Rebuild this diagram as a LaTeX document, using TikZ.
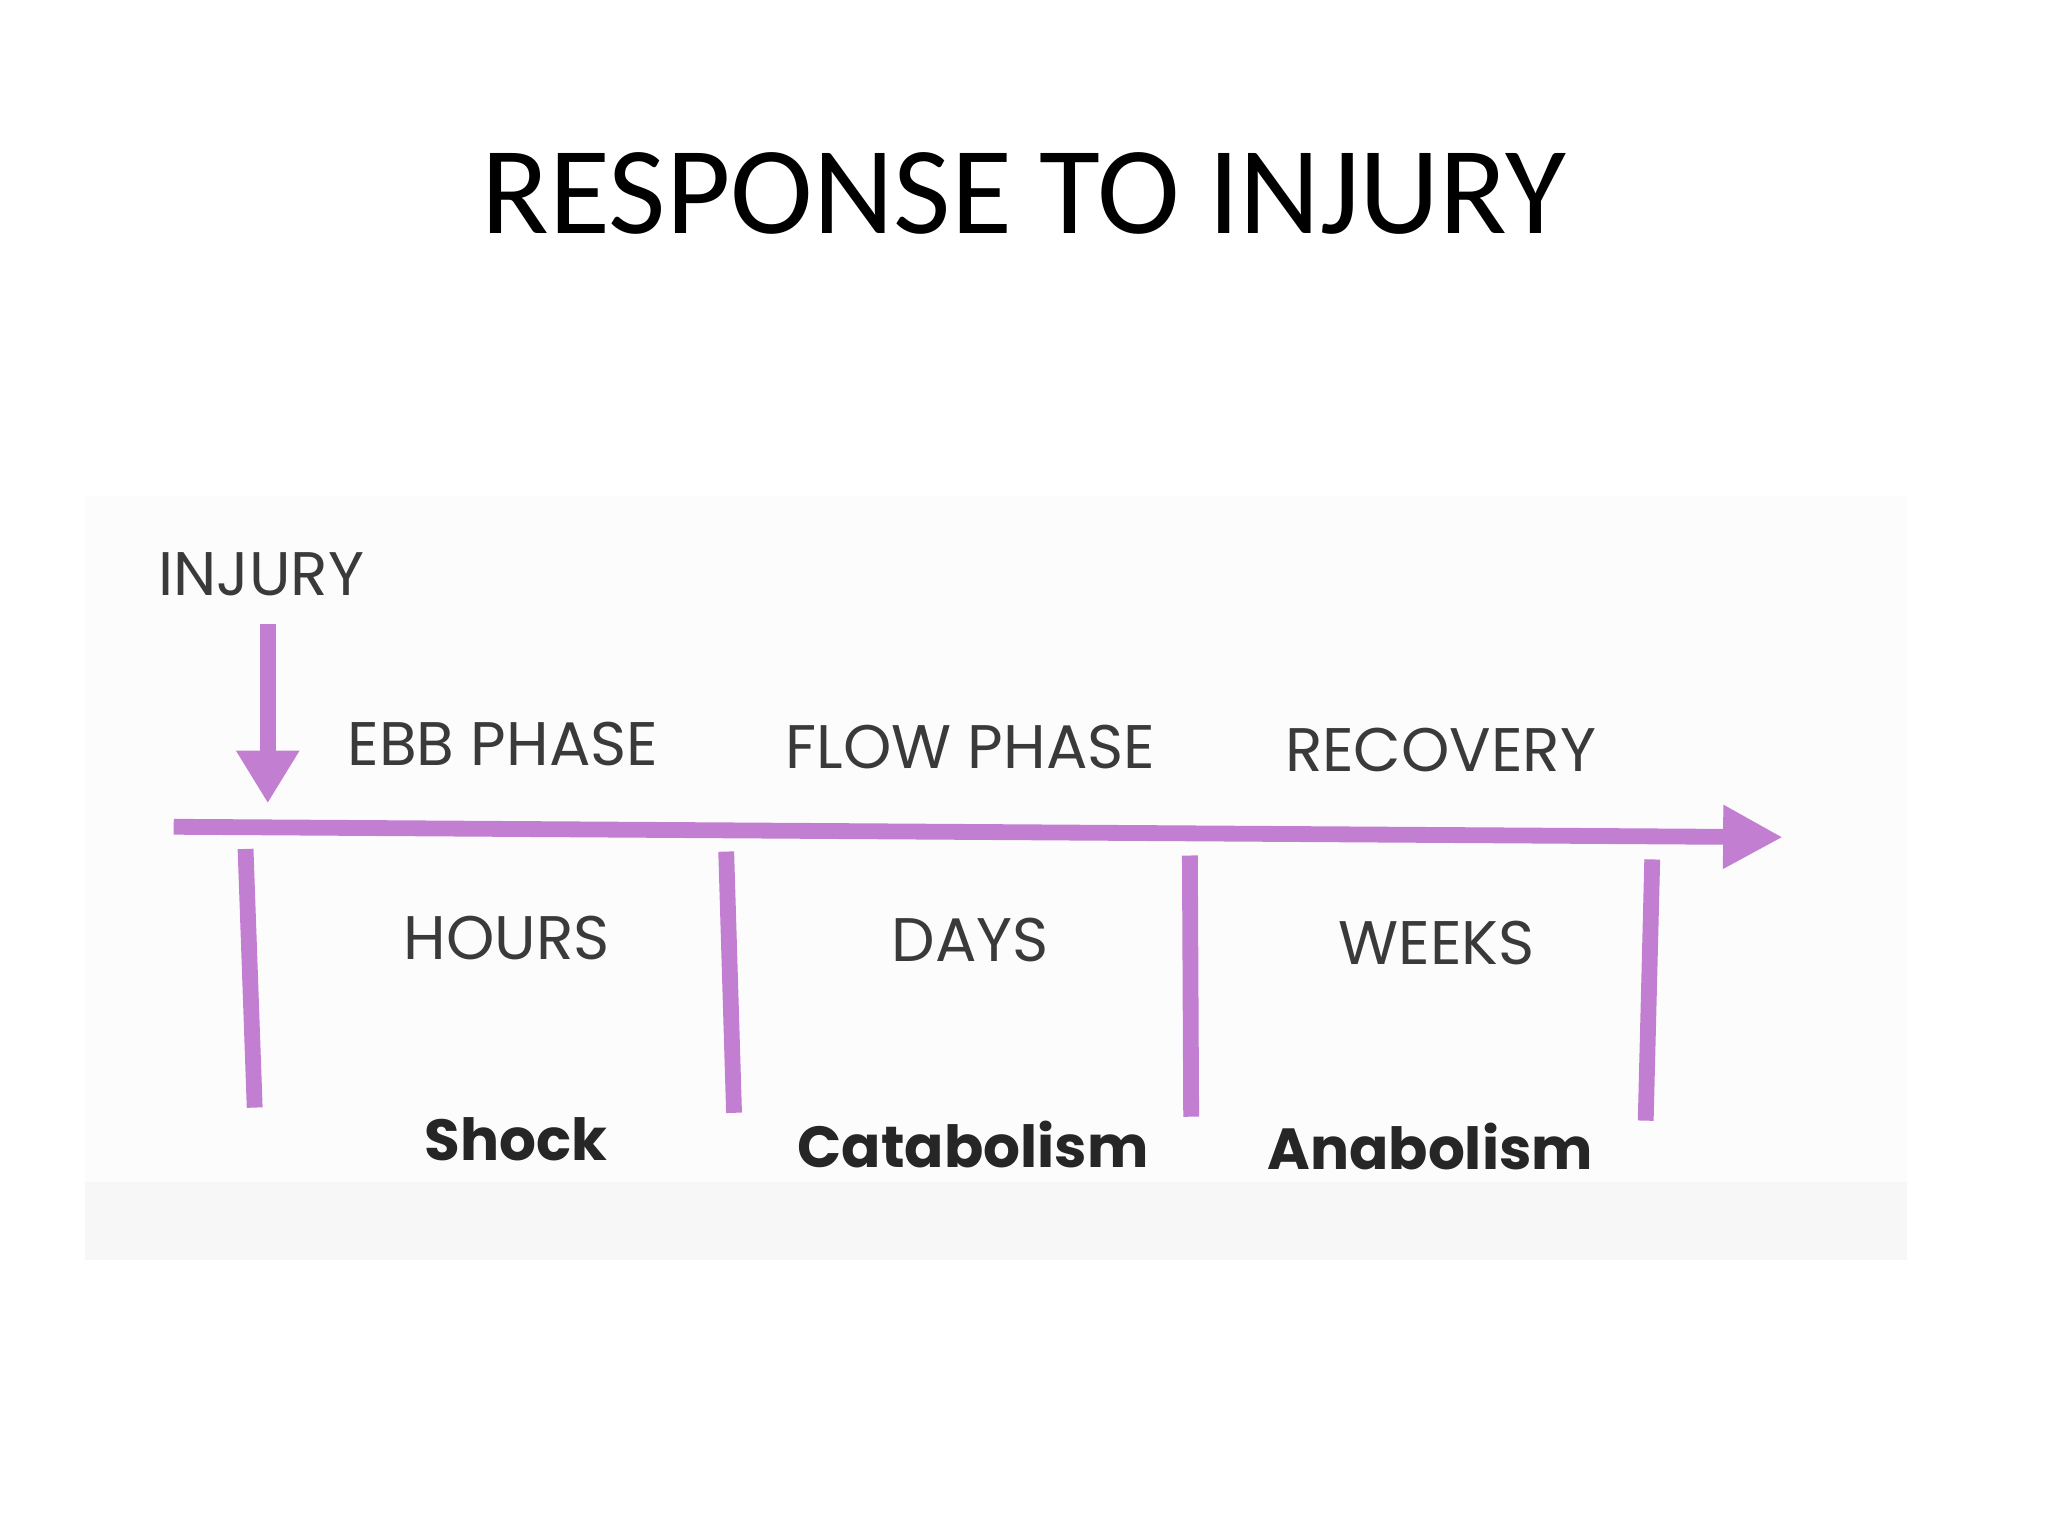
\documentclass[tikz,border=0pt]{standalone}
\usepackage{fontspec}
\setmainfont{Carlito}
\newfontfamily\geo{Poppins}
\usetikzlibrary{arrows.meta}
\definecolor{vio}{HTML}{C27FD2}
\definecolor{txt}{HTML}{3A3A3A}
\begin{document}
\begin{tikzpicture}[x=0.01306cm,y=-0.01306cm,
  lab/.style={font=\geo\fontsize{17.5}{20}\selectfont,text=txt},
  blab/.style={font=\geo\bfseries\fontsize{16.5}{20}\selectfont,text=black!85},
  vl/.style={draw=vio,line width=4.5pt}]
\useasboundingbox (0,0) rectangle (1568,1176);
\fill[gray!2] (65,380) rectangle (1460,965);
\fill[gray!6] (65,905) rectangle (1460,965);
\node (title) at (784,148) {\fontsize{35.5}{42}\selectfont RESPONSE TO INJURY};
\node[lab] (inj) at (200,440) {INJURY};
\coordinate (a1) at (205,478);
\coordinate (a2) at (205,615);
\draw[vl,-{Triangle[length=15pt,width=17pt]}] (a1) -- (a2);
\coordinate (h1) at (133,633);
\coordinate (h2) at (1365,641);
\draw[vl,-{Triangle[length=17pt,width=17pt]}] (h1) -- (h2);
\coordinate (v1a) at (188,650); \coordinate (v1b) at (195,848);
\coordinate (v2a) at (556,652); \coordinate (v2b) at (562,852);
\coordinate (v3a) at (911,655); \coordinate (v3b) at (912,855);
\coordinate (v4a) at (1265,658); \coordinate (v4b) at (1260,858);
\draw[vl] (v1a)--(v1b); \draw[vl] (v2a)--(v2b);
\draw[vl] (v3a)--(v3b); \draw[vl] (v4a)--(v4b);
\node[lab] (ebb) at (385,570) {EBB PHASE};
\node[lab] (flow) at (743,572) {FLOW PHASE};
\node[lab] (rec) at (1103,574) {RECOVERY};
\node[lab] (hrs) at (388,718) {HOURS};
\node[lab] (days) at (743,720) {DAYS};
\node[lab] (wks) at (1100,722) {WEEKS};
\node[blab] (sh) at (395,872) {Shock};
\node[blab] (cat) at (745,876) {Catabolism};
\node[blab] (ana) at (1095,878) {Anabolism};
\end{tikzpicture}
\end{document}
